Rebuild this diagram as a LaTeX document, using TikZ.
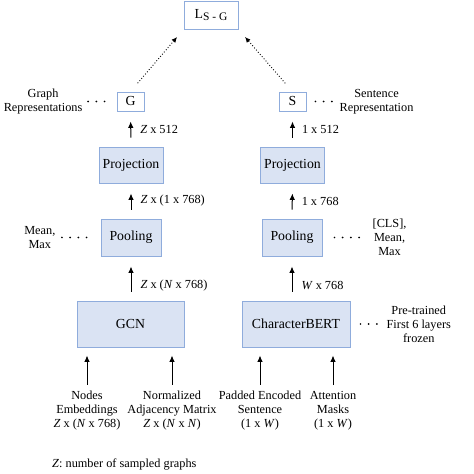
\documentclass[tikz,border=0pt]{standalone}
\usepackage{fontspec}
\setmainfont{Liberation Serif}
\usetikzlibrary{arrows.meta,positioning,calc}
\definecolor{boxfill}{RGB}{218,227,243}
\definecolor{boxline}{RGB}{143,172,220}
\tikzset{
    block/.style={
        draw=boxline,
        fill=boxfill,
        line width=0.9pt,
        rectangle,
        font=\fontsize{13.8}{16}\selectfont
    },
    outblock/.style={
        draw=boxline,
        fill=white,
        line width=0.9pt,
        rectangle,
        font=\fontsize{13.8}{16}\selectfont
    },
    note/.style={
        align=center,
        inner sep=0pt,
        font=\fontsize{12.3}{13.8}\selectfont
    },
    flow/.style={
        -{Latex[length=6.5pt,width=5.5pt]},
        line width=1pt,
        shorten <=9pt,
        shorten >=10pt
    },
    simil/.style={
        -{Latex[length=5.5pt,width=5pt]},
        line width=0.9pt,
        dotted,
        shorten <=11pt,
        shorten >=10pt
    },
    sidedots/.style={
        line width=1.9pt,
        line cap=round,
        dash pattern=on 0pt off 8.2pt
    },
}
\begin{document}
\begin{tikzpicture}[x=1pt, y=1pt]
        \useasboundingbox (0,0) rectangle (474,474);
        % blocks
        \node[outblock, minimum width=54pt, minimum height=28pt] (loss) at (211,459) {L\raisebox{-0.35ex}{\fontsize{11.5}{13}\selectfont S - G}};
        \node[outblock, minimum width=27pt, minimum height=19pt] (G) at (130.5,372.5) {G};
        \node[outblock, minimum width=27pt, minimum height=19pt] (S) at (292.5,372.5) {S};
        \node[block, minimum width=64pt, minimum height=36pt] (projG) at (131,309) {Projection};
        \node[block, minimum width=63pt, minimum height=36pt] (projS) at (292.5,309) {Projection};
        \node[block, minimum width=60pt, minimum height=37pt] (poolG) at (131,236.5) {Pooling};
        \node[block, minimum width=60pt, minimum height=37pt] (poolS) at (292,236.5) {Pooling};
        \node[block, minimum width=107pt, minimum height=46pt] (gcn) at (130.5,150) {GCN};
        \node[block, minimum width=108pt, minimum height=46pt] (bert) at (296,150) {CharacterBERT};

        % side notes
        \node[note, left=34pt of G] (noteG) {Graph\\Representations};
        \node[note, right=33pt of S] (noteS) {Sentence\\Representation};
        \node[note, left=45pt of poolG] (notePoolG) {Mean,\\Max};
        \node[note, right=50pt of poolS] (notePoolS) {[CLS],\\Mean,\\Max};
        \node[note, right=36pt of bert] (noteBert) {Pre-trained\\First 6 layers\\frozen};

        % inputs
        \node[note] (inNodes) at (87,63.5) {Nodes\\Embeddings\\\textit{Z} x (\textit{N} x 768)};
        \node[note] (inAdj) at (172,63.5) {Normalized\\Adjacency Matrix\\\textit{Z} x (\textit{N} x \textit{N})};
        \node[note] (inSent) at (260,63.5) {Padded Encoded\\Sentence\\(1 x \textit{W})};
        \node[note] (inMask) at (333,63.5) {Attention\\Masks\\(1 x \textit{W})};

        \node[note, anchor=west] (footnote) at (52,10) {\textit{Z}: number of sampled graphs};

        % lines
        \draw[flow, shorten <=6pt, shorten >=8pt] (inNodes.north) -- (inNodes.north |- gcn.south);
        \draw[flow, shorten <=6pt, shorten >=8pt] (inAdj.north) -- (inAdj.north |- gcn.south);
        \draw[flow, shorten <=6pt, shorten >=8pt] (inSent.north) -- (inSent.north |- bert.south);
        \draw[flow, shorten <=6pt, shorten >=8pt] (inMask.north) -- (inMask.north |- bert.south);

        \draw[flow] (gcn.north -| poolG.south) -- node[note, right=9pt, pos=0.35] {\textit{Z} x (\textit{N} x 768)} (poolG.south);
        \draw[flow] (bert.north -| poolS.south) -- node[note, right=9pt, pos=0.35] {\textit{W} x 768} (poolS.south);
        \draw[flow] (poolG.north) -- node[note, right=9pt] {\textit{Z} x (1 x 768)} (projG.south);
        \draw[flow] (poolS.north) -- node[note, right=9pt] {1 x 768} (projS.south);
        \draw[flow] (projG.north) -- node[note, right=9pt] {\textit{Z} x 512} (G.south);
        \draw[flow] (projS.north) -- node[note, right=9pt] {1 x 512} (S.south);

        \draw[simil] (G.north) -- (loss.south west);
        \draw[simil] (S.north) -- (loss.south east);

        \draw[sidedots, shorten <=12pt, shorten >=4.5pt] (G.west) -- (noteG.east);
        \draw[sidedots, shorten <=9pt, shorten >=6.5pt] (S.east) -- (noteS.west);
        \draw[sidedots, shorten <=14pt, shorten >=6pt] (poolG.west) -- (notePoolG.east);
        \draw[sidedots, shorten <=12pt, shorten >=13pt] (poolS.east) -- (notePoolS.west);
        \draw[sidedots, shorten <=10pt, shorten >=8.5pt] (bert.east) -- (noteBert.west);
    \end{tikzpicture}
\end{document}
